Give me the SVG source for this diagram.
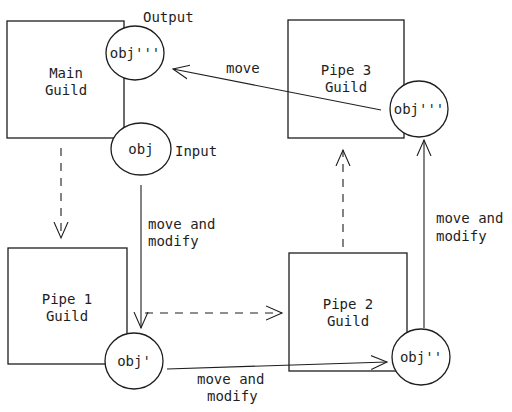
<svg xmlns="http://www.w3.org/2000/svg" width="512" height="412" viewBox="0 0 512 412">
<defs>
<style>
.box{fill:none;stroke:#1e1e1e;stroke-width:1.3}
.obj{fill:#fff;stroke:#1e1e1e;stroke-width:1.3}
.ln{fill:none;stroke:#1e1e1e;stroke-width:1.1}
.dash{stroke-dasharray:8 7}
text{font-family:"DejaVu Sans Mono","Liberation Mono",monospace;font-size:14px;fill:#1e1e1e}
.c{text-anchor:middle}
</style>
<marker id="ah" markerUnits="userSpaceOnUse" markerWidth="20" markerHeight="20" refX="16" refY="8" orient="auto" viewBox="0 0 20 16">
<path d="M0,1 L16,8 L0,15" fill="none" stroke="#1e1e1e" stroke-width="1.1"/>
</marker>
</defs>
<rect width="512" height="412" fill="#fff"/>

<g id="connectors">
<line class="ln dash" x1="61" y1="148" x2="61" y2="238" marker-end="url(#ah)"/>
<line class="ln" x1="141" y1="185" x2="141" y2="328" marker-end="url(#ah)"/>
<line class="ln dash" x1="145" y1="313" x2="282" y2="313" marker-end="url(#ah)"/>
<line class="ln" x1="167" y1="369" x2="387" y2="362" marker-end="url(#ah)"/>
<line class="ln dash" x1="343" y1="247" x2="343" y2="150" marker-end="url(#ah)"/>
<line class="ln" x1="424" y1="328" x2="424" y2="140" marker-end="url(#ah)"/>
<line class="ln" x1="381" y1="110" x2="173" y2="69" marker-end="url(#ah)"/>
<text x="148" y="229">move and</text>
<text x="148" y="246">modify</text>
<text x="197" y="384">move and</text>
<text x="207" y="401">modify</text>
<text x="436" y="223">move and</text>
<text x="436" y="241">modify</text>
<text x="226" y="73">move</text>
</g>

<g id="main-guild">
<rect class="box" x="7" y="21" width="117" height="117"/>
<text class="c" x="66" y="78">Main</text>
<text class="c" x="66" y="95">Guild</text>
</g>
<g id="main-output">
<ellipse class="obj" cx="135" cy="53" rx="29" ry="27"/>
<text class="c" x="135" y="58">obj'''</text>
<text x="143" y="22">Output</text>
</g>
<g id="main-input">
<ellipse class="obj" cx="141" cy="149" rx="30" ry="26"/>
<text class="c" x="141" y="154">obj</text>
<text x="175" y="156">Input</text>
</g>

<g id="pipe1-guild">
<rect class="box" x="8" y="248" width="119" height="116"/>
<text class="c" x="67" y="304">Pipe 1</text>
<text class="c" x="67" y="321">Guild</text>
</g>
<g id="pipe1-obj">
<ellipse class="obj" cx="134" cy="361" rx="29" ry="28"/>
<text class="c" x="134" y="366">obj'</text>
</g>

<g id="pipe2-guild">
<rect class="box" x="289" y="253" width="118" height="118"/>
<text class="c" x="348" y="309">Pipe 2</text>
<text class="c" x="348" y="326">Guild</text>
</g>
<g id="pipe2-obj">
<ellipse class="obj" cx="421" cy="357" rx="29" ry="28"/>
<text class="c" x="421" y="362">obj''</text>
</g>

<g id="pipe3-guild">
<rect class="box" x="288" y="20" width="116" height="118"/>
<text class="c" x="346" y="75">Pipe 3</text>
<text class="c" x="346" y="92">Guild</text>
</g>
<g id="pipe3-obj">
<ellipse class="obj" cx="419" cy="109" rx="29" ry="28"/>
<text class="c" x="419" y="114">obj'''</text>
</g>
</svg>
